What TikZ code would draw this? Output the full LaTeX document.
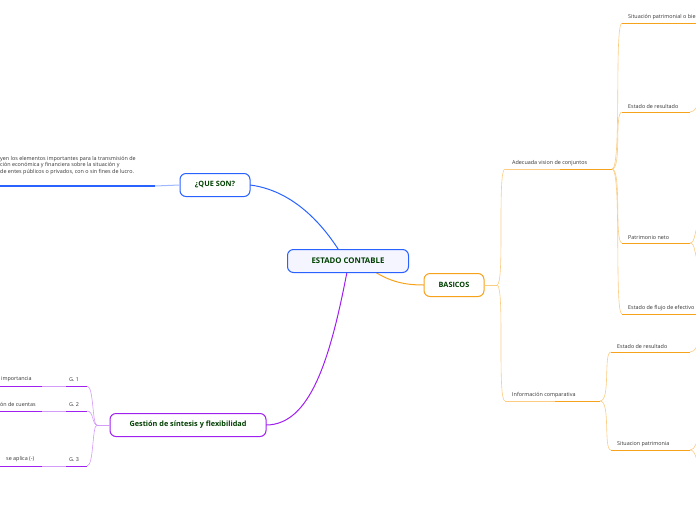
\documentclass[tikz,border=0pt]{standalone}
\usepackage{fontspec}
\setmainfont{Open Sans}
\begin{document}
\begin{tikzpicture}[x=1pt,y=-1pt,
  box/.style={draw,rounded corners=6pt,line width=1pt,fill=white,font=\fontsize{7.3}{8}\selectfont\bfseries,text=green!25!black,minimum height=23pt,inner xsep=8pt},
  lbl/.style={font=\fontsize{5.4}{6.5}\selectfont,text=black!80,inner sep=0pt},
  or/.style={draw=O,line width=0.9pt},
  orl/.style={draw=O!55,line width=0.6pt},
  pu/.style={draw=P,line width=0.9pt},
  pul/.style={draw=P!45,line width=0.6pt}]
\definecolor{B}{HTML}{2962FF}
\definecolor{O}{HTML}{F7A21B}
\definecolor{P}{HTML}{A020F0}
\useasboundingbox (0,0) rectangle (696,520);
\clip (0,0) rectangle (696,520);
% central
\draw[B,line width=1pt] (340,252) .. controls (320,220) and (290,190) .. (250,185);
\draw[O,line width=1pt] (372,270) .. controls (390,282) and (405,285) .. (424,285);
\draw[P,line width=1pt] (347,272) .. controls (330,360) and (310,425) .. (266,425);
\node[box,draw=B,fill=blue!4,minimum width=121pt,font=\fontsize{7.8}{8}\selectfont\bfseries] (c) at (348,261) {ESTADO CONTABLE};
\node[box,draw=B,minimum width=70pt] (q) at (215,185) {¿QUE SON?};
\node[box,draw=O,minimum width=60pt] (b) at (454,285) {BASICOS};
\node[box,draw=P,minimum width=156pt] (g) at (188,425) {Gestión de síntesis y flexibilidad};
% QUE SON
\coordinate (q1) at (0,186);
\draw[draw=B!45,line width=1pt] (q.west) -- (155,186);
\draw[draw=B,line width=1.6pt] (155,186) -- (q1);
\node[lbl,anchor=north west,align=left] (qt) at (0,156) {yen los elementos importantes para la transmisión de\\ción económica y financiera sobre la situación y\\de entes públicos o privados, con o sin fines de lucro.};
% BASICOS
\coordinate (bj) at (497,285);
\draw[orl] (b.east) -- (bj);
\coordinate (a0) at (505,169); \coordinate (a1) at (612,169);
\coordinate (i0) at (505,401); \coordinate (i1) at (600,401);
\draw[orl] (bj) .. controls (505,285) and (497,169) .. (a0);
\draw[orl] (bj) .. controls (505,285) and (497,401) .. (i0);
\draw[orl] (a0) -- (560,169); \draw[or] (560,169) -- (a1);
\draw[orl] (i0) -- (555,401); \draw[or] (555,401) -- (i1);
\node[lbl,anchor=south west] (at) at (512,165.5) {Adecuada vision de conjuntos};
\node[lbl,anchor=south west] (it) at (512,397.5) {Información comparativa};
% adecuada subs
\foreach \y/\t/\e in {23/Situación patrimonial o bienes/700,112/Estado de resultado/690,243/Patrimonio neto/690,314/Estado de flujo de efectivo/700}{
  \draw[orl] (a1) .. controls (622,169) and (614,\y) .. (622,\y);
  \draw[or] (622,\y) -- (\e,\y);
  \node[lbl,anchor=south west] at (628,\y-3) {\t};
}
\draw[orl] (690,243) .. controls (696,243) and (694,228) .. (700,222);
\draw[orl] (690,243) .. controls (696,243) and (694,258) .. (700,265);
\draw[orl] (690,112) .. controls (696,112) and (696,105) .. (700,103);
% comparativa subs
\foreach \y/\t in {352/Estado de resultado,450/Situacion patrimonia}{
  \draw[orl] (i1) .. controls (611,401) and (603,\y) .. (611,\y);
  \draw[or] (611,\y) -- (690,\y);
  \node[lbl,anchor=south west] at (617,\y-3) {\t};
}
\draw[orl] (690,352) .. controls (696,352) and (696,345) .. (700,342);
\draw[orl] (690,450) .. controls (696,450) and (696,440) .. (700,437);
\draw[orl] (690,450) .. controls (696,450) and (696,462) .. (700,466);
% gestion subs
\coordinate (gj) at (97,425);
\draw[pul] (g.west) -- (gj);
\foreach \y/\gg in {386/G. 1,411/G. 2,466/G. 3}{
  \draw[pul] (gj) .. controls (92,425) and (94,\y) .. (87,\y);
  \draw[pu] (87,\y) -- (66,\y);
  \draw[pul] (66,\y) -- (42,\y);
  \draw[pu] (42,\y) -- (0,\y);
  \node[lbl,anchor=south] at (74,\y-4) {\gg};
}
\node[lbl,anchor=south west] at (1,382) {importancia};
\node[lbl,anchor=south west] at (0,407) {ón de cuentas};
\node[lbl,anchor=south west] at (6,462) {se aplica (-)};
\end{tikzpicture}
\end{document}
